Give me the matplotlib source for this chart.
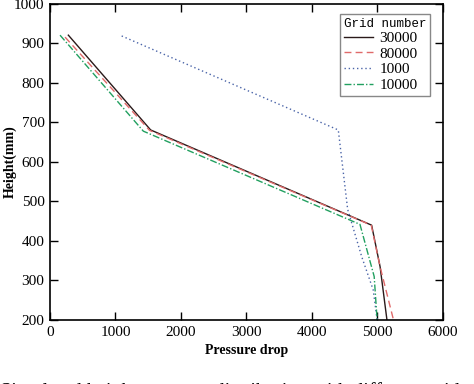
import matplotlib.pyplot as plt

# Height (mm) vs pressure drop for each grid size
h_30000 = [921, 681, 440, 335, 200]
p_30000 = [280, 1537, 4911, 5040, 5145]

h_80000 = [916, 680, 440, 335, 200]
p_80000 = [230, 1520, 4905, 5040, 5245]

h_1000 = [919, 681, 480, 360, 276, 200]
p_1000 = [1094, 4402, 4545, 4760, 4935, 4995]

h_10000 = [921, 678, 442, 310, 200]
p_10000 = [153, 1425, 4733, 4950, 4995]

x_ticks = [0, 1000, 2000, 3000, 4000, 5000, 6000]
y_ticks = [200, 300, 400, 500, 600, 700, 800, 900, 1000]

serif = "Liberation Serif"

fig = plt.figure(figsize=(4.74, 3.84), dpi=100)
ax = fig.add_axes([0.1055, 0.1667, 0.829, 0.823])

ax.plot(p_30000, h_30000, color="#2a1a1a", lw=1.0, ls="-", label="30000")
ax.plot(p_80000, h_80000, color="#e06a6a", lw=1.0, ls=(0, (5, 3)), label="80000")
ax.plot(p_1000, h_1000, color="#4a64a8", lw=1.0, ls=(0, (1, 2)), label="1000")
ax.plot(p_10000, h_10000, color="#22a060", lw=1.0, ls=(0, (5, 1.5, 1, 1.5)), label="10000")

ax.set_xlim(0, 6000)
ax.set_ylim(200, 1000)
ax.set_xticks(x_ticks)
ax.set_yticks(y_ticks)
ax.tick_params(direction="in", length=6, width=1, top=True, right=True,
               labelsize=11, pad=4)
for lab in ax.get_xticklabels() + ax.get_yticklabels():
    lab.set_fontfamily(serif)
for s in ax.spines.values():
    s.set_linewidth(1.2)

ax.set_xlabel("Pressure drop", fontfamily=serif, fontweight="bold", fontsize=10, labelpad=4)
ax.set_ylabel("Height(mm)", fontfamily=serif, fontweight="bold", fontsize=10)
ax.yaxis.set_label_coords(-0.085, 0.5)

leg = ax.legend(title="Grid number", loc="upper right", bbox_to_anchor=(0.975, 0.978),
                prop={"family": serif, "size": 11}, fancybox=False, framealpha=1,
                edgecolor="#888888", handlelength=1.9, handletextpad=0.45,
                labelspacing=0.12, borderpad=0.25, borderaxespad=0.2, alignment="left")
leg.get_title().set_fontfamily("Liberation Mono")
leg.get_title().set_fontsize(9)
leg.get_frame().set_linewidth(1.0)

# caption cut off by the bottom edge of the image, as in the source
fig.text(0.0, 0.006, "Simulated height pressure distribution with different grid",
         fontfamily=serif, fontsize=14.5, va="top", ha="left")

fig.savefig("out.png", dpi=100)
